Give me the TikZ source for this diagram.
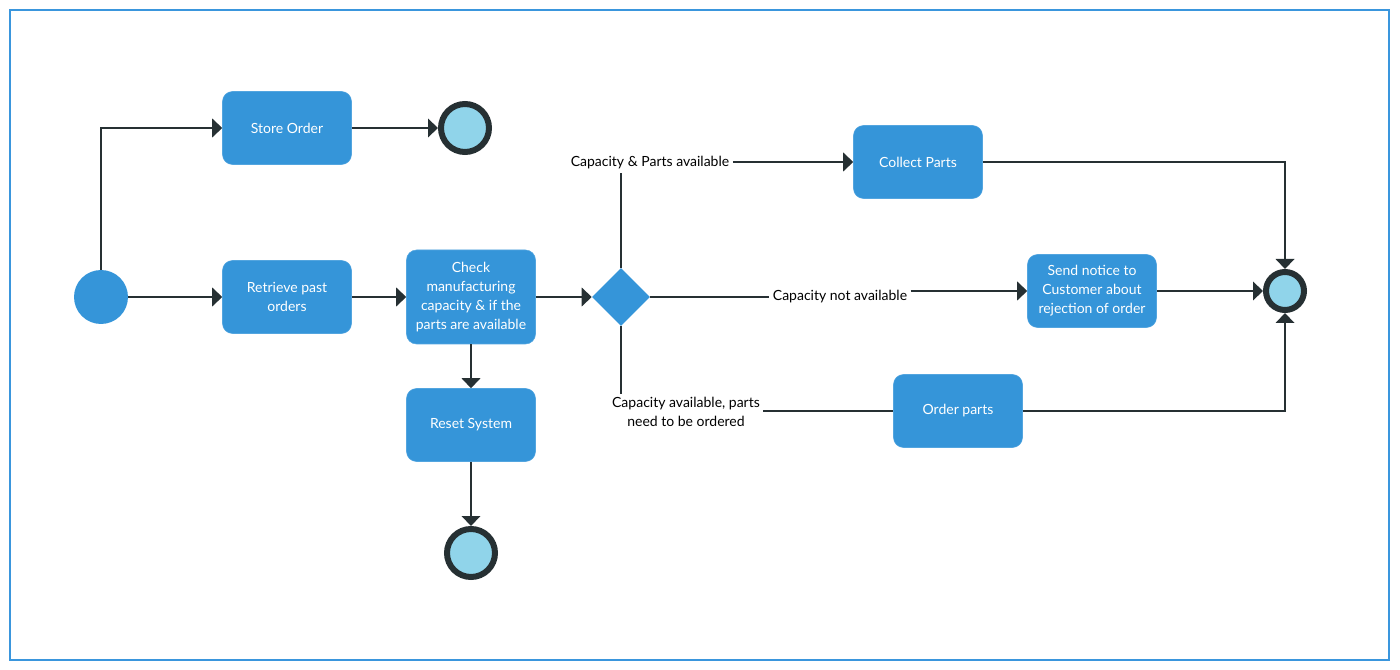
\documentclass[tikz,border=0pt]{standalone}
\usepackage{fontspec}
\setmainfont{Lato}
\usetikzlibrary{shapes.geometric,arrows.meta}
\definecolor{boxblue}{HTML}{3595D9}
\definecolor{darkline}{HTML}{263033}
\definecolor{lightblue}{HTML}{90D4EA}
\definecolor{frameblue}{HTML}{3A96DD}

\tikzset{
  activity/.style={fill=boxblue, draw=boxblue!85!white, rounded corners=7.5pt,
    text=white, minimum width=96.75pt, minimum height=54.75pt, align=center,
    inner sep=2pt, font=\fontsize{10.5}{14.25}\selectfont},
  endstate/.style={circle, draw=darkline, line width=4.5pt, fill=lightblue, inner sep=0pt},
  flowlabel/.style={text=black, align=center, inner sep=2.5pt, font=\fontsize{10.5}{14.25}\selectfont},
  flow/.style={draw=darkline, line width=1.1pt, -{Triangle[length=7.5pt,width=14pt]}},
  plain/.style={draw=darkline, line width=1.1pt}
}

\begin{document}
\begin{tikzpicture}[x=0.75pt,y=-0.75pt]
	\useasboundingbox (0,0) rectangle (1400,670);
	\draw[frameblue, line width=1.5pt] (10,10) rectangle (1389,660);

	% states and activities
	\node[circle, fill=boxblue, minimum size=40.5pt, inner sep=0pt] (start) at (101,297) {};
	\node[activity] (store) at (287,128) {Store Order};
	\node[endstate, minimum size=36pt] (endA) at (465,128) {};
	\node[activity] (retrieve) at (287,297) {Retrieve past\\orders};
	\node[activity, minimum height=70.5pt] (check) at (471,297) {Check\\manufacturing\\capacity \& if the\\parts are available};
	\node[activity] (reset) at (471,425) {Reset System};
	\node[endstate, minimum size=36pt] (endB) at (471,553) {};
	\node[diamond, fill=boxblue, minimum width=43.5pt, minimum height=43.5pt, inner sep=0pt] (decision) at (621,297) {};
	\node[activity] (collect) at (918,162) {Collect Parts};
	\node[activity] (notice) at (1092,291) {Send notice to\\Customer about\\rejection of order};
	\node[activity] (order) at (958,411) {Order parts};
	\node[endstate, minimum size=28.5pt] (final) at (1285,291) {};

	% guard labels
	\node[flowlabel] (capparts) at (650,163) {Capacity \& Parts available};
	\node[flowlabel] (capnot) at (840,297) {Capacity not available};
	\node[flowlabel] (caporder) at (686,412) {Capacity available, parts\\need to be ordered};

	% connectors
	\draw[flow] (start.north) |- (store.west);
	\draw[flow] (start) -- (retrieve);
	\draw[flow] (store) -- (endA);
	\draw[flow] (retrieve) -- (check);
	\draw[flow] (check) -- (decision);
	\draw[flow] (check) -- (reset);
	\draw[flow] (reset) -- (endB);

	\draw[plain] (decision.north) -- (decision.north |- capparts.south);
	\draw[flow] (capparts.east |- collect.west) -- (collect.west);
	\draw[plain] (decision.east) -- (capnot.west |- decision.east);
	\draw[flow] (capnot.east |- notice.west) -- (notice.west);
	\draw[plain] (decision.south) -- (decision.south |- caporder.north);
	\draw[plain] (caporder.east |- order.west) -- (order.west);

	\draw[flow] (collect.east) -| (final.north);
	\draw[flow] (notice) -- (final);
	\draw[flow] (order.east) -| (final.south);
\end{tikzpicture}
\end{document}
